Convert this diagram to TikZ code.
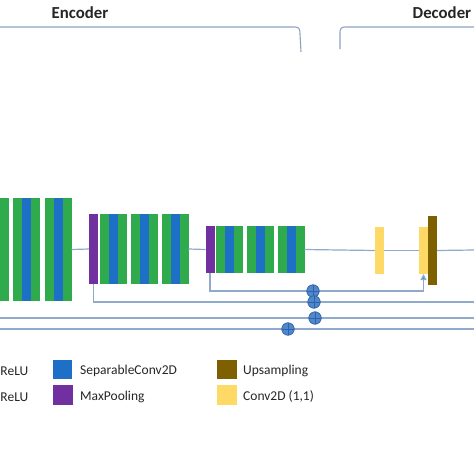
\documentclass[tikz,border=0pt]{standalone}
\usepackage{fontspec}
\setmainfont{Carlito}
\usetikzlibrary{arrows.meta}
\definecolor{cgreen}{HTML}{2FAA4C}
\definecolor{cblue}{HTML}{1E6FC6}
\definecolor{cpurple}{HTML}{7030A0}
\definecolor{cbrown}{HTML}{7F6000}
\definecolor{cyellow}{HTML}{FFD966}
\definecolor{cline}{HTML}{8FAACB}
\definecolor{cop}{HTML}{4F88CC}
\definecolor{copd}{HTML}{2F62A6}
\definecolor{ctext}{HTML}{262626}
\tikzset{
  blk/.style={rectangle, inner sep=0pt, outer sep=0pt, draw=none},
  convblock/.style={blk, fill=cgreen, minimum width=27pt,
    path picture={\fill[cblue] ([xshift=-4.5pt]path picture bounding box.south) rectangle ([xshift=4.5pt]path picture bounding box.north);}},
  poolblock/.style={blk, fill=cpurple, minimum width=9pt},
  yelblock/.style={blk, fill=cyellow, minimum width=9pt},
  upblock/.style={blk, fill=cbrown, minimum width=9pt},
  link/.style={draw=cline, line width=1.2pt},
  brace/.style={draw=cline!85!gray, line width=1.1pt},
  addop/.style={circle, inner sep=0pt, minimum size=12.5pt, fill=cop, draw=copd, line width=0.7pt,
    path picture={\draw[copd, line width=0.7pt] (path picture bounding box.north) -- (path picture bounding box.south) (path picture bounding box.west) -- (path picture bounding box.east);}},
  legsq/.style={blk, minimum size=19.5pt},
  legtxt/.style={inner sep=0pt, text=ctext, font=\fontsize{13.5}{15}\selectfont},
  title/.style={inner sep=0pt, text=ctext, font=\fontsize{16.8}{19}\selectfont\bfseries}
}
\begin{document}
\begin{tikzpicture}[x=1pt,y=-1pt]
\useasboundingbox (0,0) rectangle (474,474);
\clip (0,0) rectangle (474,474);
\fill[white] (0,0) rectangle (474,474);
% titles and braces
\node[title] (enc) at (80,13) {Encoder};
\node[title, anchor=west] (dec) at (412.5,13) {Decoder};
\draw[brace] (0,27) -- (295,27) .. controls (299,27) and (300,29) .. (300,34) -- (301,52);
\draw[brace] (340,49) -- (340,33) .. controls (340,29) and (341,27) .. (345,27) -- (474,27);
% encoder stage 1
\node[convblock, minimum height=103pt] (b0) at (-4.5,249.5) {};
\node[convblock, minimum height=103pt] (b1) at (26.5,249.5) {};
\node[convblock, minimum height=103pt] (b2) at (58,249.5) {};
\node[poolblock, minimum height=70pt] (p1) at (93.5,249) {};
% stage 2
\node[convblock, minimum height=70pt] (m1) at (113.5,249) {};
\node[convblock, minimum height=70pt] (m2) at (144.5,249) {};
\node[convblock, minimum height=70pt] (m3) at (175,249) {};
\node[poolblock, minimum height=47pt] (p2) at (210,249.5) {};
% stage 3
\node[convblock, minimum height=47pt] (s1) at (229,249.5) {};
\node[convblock, minimum height=47pt] (s2) at (260,249.5) {};
\node[convblock, minimum height=47pt] (s3) at (291,249.5) {};
% decoder
\node[yelblock, minimum height=47pt] (y1) at (379.5,250.5) {};
\node[yelblock, minimum height=47pt] (y2) at (423.5,250.5) {};
\node[upblock, minimum height=69pt] (u1) at (432.5,250.5) {};
\coordinate (rout) at (474,250);
% main path
\draw[link] (b2.east) -- (p1.west);
\draw[link] (m3.east) -- (p2.west);
\draw[link] (s3.east) -- (y1.west);
\draw[link] (y1.east) -- (y2.west);
\draw[link] (u1.east) -- (rout);
% skip connections
\coordinate (k1) at (313,291);
\coordinate (k2) at (314,302);
\coordinate (k3) at (315,318);
\coordinate (k4) at (288,329);
\coordinate (r2) at (474,302);
\coordinate (l3) at (0,318);
\coordinate (r3) at (474,318);
\coordinate (l4) at (0,329);
\coordinate (r4) at (474,329);
\draw[link, -{Triangle[length=6pt,width=6pt,fill=cop]}] (p2.south) |- (k1) -| (y2.south);
\draw[link] (p1.south) |- (k2) -- (r2);
\draw[link] (l3) -- (k3) -- (r3);
\draw[link] (l4) -- (k4) -- (r4);
\node[addop] (a1) at (k1) {};
\node[addop] (a2) at (k2) {};
\node[addop] (a3) at (k3) {};
\node[addop] (a4) at (k4) {};
% legend
\node[legtxt, anchor=east] (t1) at (28.5,371) {ReLU};
\node[legtxt, anchor=east] (t2) at (28.5,397) {ReLU};
\node[legsq, fill=cblue] (q1) at (62.5,369.5) {};
\node[legsq, fill=cpurple] (q2) at (63,395) {};
\node[legtxt, anchor=west] (t3) at (80,370.5) {SeparableConv2D};
\node[legtxt, anchor=west] (t4) at (80,396.5) {MaxPooling};
\node[legsq, fill=cbrown] (q3) at (227,369.5) {};
\node[legsq, fill=cyellow] (q4) at (227,395) {};
\node[legtxt, anchor=west] (t5) at (243,370.5) {Upsampling};
\node[legtxt, anchor=west] (t6) at (243,396.5) {Conv2D (1,1)};
\end{tikzpicture}
\end{document}
